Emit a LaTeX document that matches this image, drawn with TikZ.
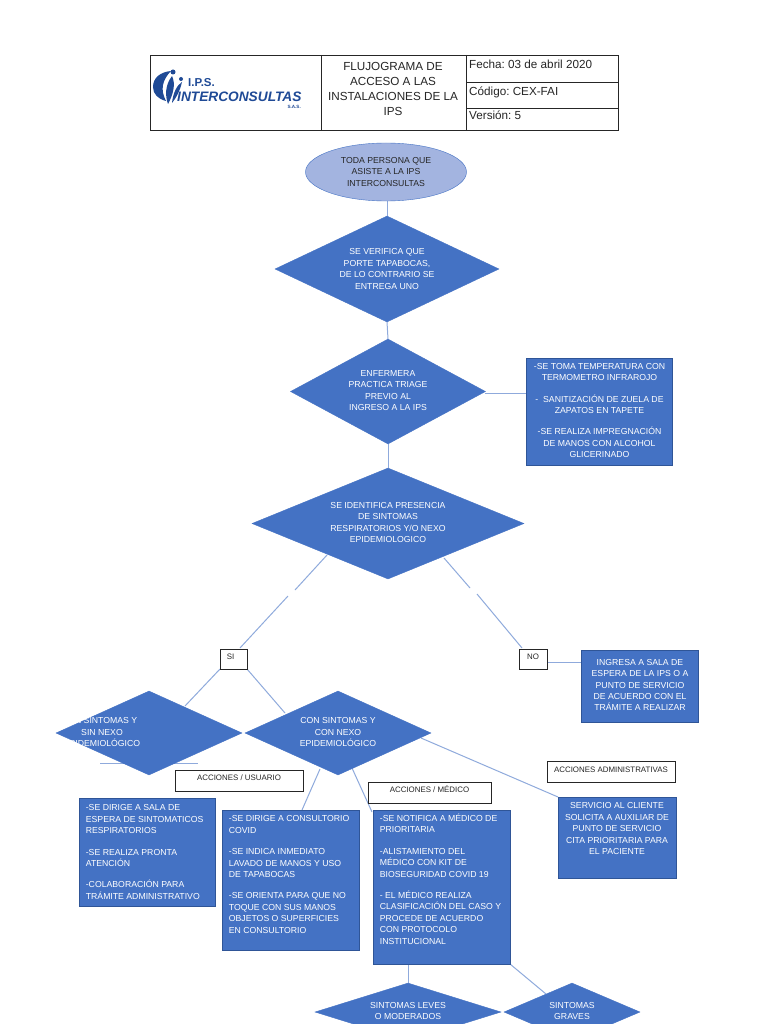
\documentclass[tikz,border=0pt]{standalone}
\usepackage{fontspec}
\setmainfont{Liberation Sans}
\usetikzlibrary{calc}
\usetikzlibrary{shapes}
\definecolor{boxblue}{HTML}{4472C4}
\definecolor{boxedge}{HTML}{2F5597}
\definecolor{linkblue}{HTML}{8FAADC}
\definecolor{startblue}{HTML}{A3B4E0}
\definecolor{logoblue}{HTML}{1F4A96}
\tikzset{
  flow/.style = {draw = boxblue, fill = boxblue, diamond, inner sep = 0pt},
  bluebox/.style = {rectangle, draw = boxedge, fill = boxblue, line width = 0.7pt, inner sep = 0pt},
  whitebox/.style = {rectangle, draw = black!85, fill = white, line width = 0.9pt, inner sep = 0pt},
  small/.style = {font = \frenchspacing\fontsize{8.7}{11.4}\selectfont, inner sep = 0pt},
  smallw/.style = {small, text = white},
  tiny/.style = {font = \fontsize{7.9}{10}\selectfont, text = black!85, inner sep = 0pt},
  head/.style = {font = \frenchspacing\fontsize{11.7}{15}\selectfont, text = black!85, inner sep = 0pt},
  link/.style = {draw = linkblue, line width = 1pt}
}
\begin{document}
\begin{tikzpicture}[x = 1pt, y = -1pt]
\useasboundingbox (0,0) rectangle (768,1024);
\fill[white] (0,0) rectangle (768,1024);

\coordinate (d3sw) at (327,555);
\coordinate (gapa) at (295,590);
\coordinate (gapb) at (288,596);
\coordinate (d3se) at (444,558);
\coordinate (gapc) at (470,588);
\coordinate (gapd) at (477,594);
\coordinate (sisw) at (220,669);
\coordinate (sise) at (247,669);
\coordinate (d4top) at (185,706);
\coordinate (d5top) at (285,713);
\coordinate (sitop) at (240,648);
\coordinate (notop) at (522,648);
\coordinate (d5e) at (421,738);
\coordinate (admtop) at (558,797);
\coordinate (d5a) at (320,769);
\coordinate (usrtop) at (302,810);
\coordinate (d5b) at (352,768);
\coordinate (medtop) at (372,812);
\coordinate (strayl) at (100,763);
\coordinate (strayr) at (198,763);
\coordinate (medse) at (510,964);
\coordinate (d7top) at (546,994);

\draw[link] (387,201) -- (387,216);
\draw[link] (387,322) -- (388,339);
\draw[link] (388,444) -- (388,468);
\draw[link] (485,393) -- (526,393);
\draw[link] (d3sw) -- (gapa);
\draw[link] (gapb) -- (sitop);
\draw[link] (d3se) -- (gapc);
\draw[link] (gapd) -- (notop);
\draw[link] (sisw) -- (d4top);
\draw[link] (sise) -- (d5top);
\draw[link] (strayl) -- (strayr);
\draw[link] (d5e) -- (admtop);
\draw[link] (d5a) -- (usrtop);
\draw[link] (d5b) -- (medtop);
\draw[link] (547,662) -- (581,662);
\draw[link] (408,964) -- (408,983);
\draw[link] (medse) -- (d7top);

\draw[draw = black!85, line width = 0.9pt] (150,55) rectangle (618,130);
\draw[draw = black!85, line width = 0.9pt] (321,55) -- (321,130);
\draw[draw = black!85, line width = 0.9pt] (466,55) -- (466,130);
\draw[draw = black!85, line width = 0.9pt] (466,82) -- (618,82);
\draw[draw = black!85, line width = 0.9pt] (466,108) -- (618,108);
\draw (393,88.5) node[name = title, head, align = center]{FLUJOGRAMA DE\\ACCESO A LAS\\INSTALACIONES DE LA\\IPS};
\draw (469,64.5) node[name = fecha, head, right]{Fecha: 03 de abril 2020};
\draw (469,92) node[name = codigo, head, right]{Código: CEX-FAI};
\draw (469,115) node[name = version, head, right]{Versión: 5};

\fill[logoblue] (171,71) .. controls (160,72) and (153,78) .. (153,87) .. controls (153,94) and (158,99) .. (166,101) .. controls (163,95) and (162,90) .. (163,85) .. controls (164,80) and (167,75) .. (171,71);
\fill[logoblue] (172,76) .. controls (176,84) and (173,95) .. (168,104) .. controls (165,96) and (165,85) .. (172,76);
\fill[logoblue] (182,82) .. controls (177,85) and (173,93) .. (172,103) .. controls (176,98) and (180,91) .. (182,82);
\fill[logoblue] (173,72) circle (2.5);
\fill[logoblue] (181,79) circle (2);
\draw (188,83) node[name = ips, right, inner sep = 0pt, text = logoblue, font = \fontsize{11.5}{12}\selectfont\bfseries]{I.P.S.};
\draw (177,97) node[name = inter, right, inner sep = 0pt, text = logoblue, font = \fontsize{13.7}{15}\selectfont\bfseries\itshape]{INTERCONSULTAS};
\draw (301,107) node[name = sas, left, inner sep = 0pt, text = logoblue, font = \fontsize{4.6}{6}\selectfont\bfseries]{S.A.S.};

\draw (386,172) node[name = start, ellipse, draw = boxblue, fill = startblue, minimum width = 161pt, minimum height = 58pt, inner sep = 0pt]{};
\draw (start.center) node[name = starttxt, small, align = center, text = black!85]{TODA PERSONA QUE\\ASISTE A LA IPS\\INTERCONSULTAS};

\draw (387,269) node[name = tapa, flow, minimum width = 224pt, minimum height = 106pt]{};
\draw (tapa.center) + (0,0) node[name = tapatxt, smallw, align = center]{SE VERIFICA QUE\\PORTE TAPABOCAS,\\DE LO CONTRARIO SE\\ENTREGA UNO};
\draw (388,391.5) node[name = triage, flow, minimum width = 195pt, minimum height = 105pt]{};
\draw (triage.center) + (0,-1) node[name = triagetxt, smallw, align = center]{ENFERMERA\\PRACTICA TRIAGE\\PREVIO AL\\INGRESO A LA IPS};
\draw (388,523.5) node[name = ident, flow, minimum width = 272pt, minimum height = 111pt]{};
\draw (ident.center) + (0,-1) node[name = identtxt, smallw, align = center]{SE IDENTIFICA PRESENCIA\\DE SINTOMAS\\RESPIRATORIOS Y/O NEXO\\EPIDEMIOLOGICO};

\draw (149,733) node[name = sinnexo, flow, minimum width = 186pt, minimum height = 84pt]{};
\draw (102,732) node[name = sintxt, smallw, align = center]{SIN SINTOMAS Y\\SIN NEXO\\EPIDEMIOLÓGICO};
\draw (338,733) node[name = connexo, flow, minimum width = 186pt, minimum height = 84pt]{};
\draw (connexo.center) + (0,-1) node[name = contxt, smallw, align = center]{CON SINTOMAS Y\\CON NEXO\\EPIDEMIOLÓGICO};

\draw (408,1012) node[name = leves, flow, minimum width = 186pt, minimum height = 58pt]{};
\draw (leves.center) + (0,-1) node[name = levestxt, smallw, align = center]{SINTOMAS LEVES\\O MODERADOS};
\draw (572,1012) node[name = graves, flow, minimum width = 136pt, minimum height = 58pt]{};
\draw (graves.center) + (0,-1) node[name = gravestxt, smallw, align = center]{SINTOMAS\\GRAVES};

\draw (599.5,411.5) node[name = temp, bluebox, minimum width = 146pt, minimum height = 107pt]{};
\draw (temp.center) + (0,-1) node[name = temptxt, smallw, align = center]{-SE TOMA TEMPERATURA CON\\TERMOMETRO INFRAROJO\\[10pt]- \ SANITIZACIÓN DE ZUELA DE\\ZAPATOS EN TAPETE\\[10pt]-SE REALIZA IMPREGNACIÓN\\DE MANOS CON ALCOHOL\\GLICERINADO};

\draw (640,686) node[name = sala, bluebox, minimum width = 117pt, minimum height = 72pt]{};
\draw (sala.center) + (0,-1) node[name = salatxt, smallw, align = center]{INGRESA A SALA DE\\ESPERA DE LA IPS O A\\PUNTO DE SERVICIO\\DE ACUERDO CON EL\\TRÁMITE A REALIZAR};

\draw (147,852) node[name = usr, bluebox, minimum width = 136pt, minimum height = 108pt]{};
\draw (usr.north west) + (7,7) node[name = usrtxt, smallw, below right, align = left]{-SE DIRIGE A SALA DE\\ESPERA DE SINTOMATICOS\\RESPIRATORIOS\\[10pt]-SE REALIZA PRONTA\\ATENCIÓN\\[10pt]-COLABORACIÓN PARA\\TRÁMITE ADMINISTRATIVO};
\draw (290.5,880) node[name = covid, bluebox, minimum width = 137pt, minimum height = 140pt]{};
\draw (covid.north west) + (7,6) node[name = covidtxt, smallw, below right, align = left]{-SE DIRIGE A CONSULTORIO\\COVID\\[10pt]-SE INDICA INMEDIATO\\LAVADO DE MANOS Y USO\\DE TAPABOCAS\\[10pt]-SE ORIENTA PARA QUE NO\\TOQUE CON SUS MANOS\\OBJETOS O SUPERFICIES\\EN CONSULTORIO};
\draw (441.5,887) node[name = med, bluebox, minimum width = 137pt, minimum height = 154pt]{};
\draw (med.north west) + (7,4) node[name = medtxt, smallw, below right, align = left]{-SE NOTIFICA A MÉDICO DE\\PRIORITARIA\\[10pt]-ALISTAMIENTO DEL\\MÉDICO CON KIT DE\\BIOSEGURIDAD COVID 19\\[10pt]- EL MÉDICO REALIZA\\CLASIFICACIÓN DEL CASO Y\\PROCEDE DE ACUERDO\\CON PROTOCOLO\\INSTITUCIONAL};
\draw (617,837.5) node[name = serv, bluebox, minimum width = 118pt, minimum height = 81pt]{};
\draw (serv.north) + (0,6) node[name = servtxt, smallw, below, align = center]{SERVICIO AL CLIENTE\\SOLICITA A AUXILIAR DE\\PUNTO DE SERVICIO\\CITA PRIORITARIA PARA\\EL PACIENTE};

\draw (233.5,659) node[name = si, whitebox, minimum width = 27pt, minimum height = 20pt]{};
\draw (si.center) + (-3,-2.5) node[name = sitxt, tiny]{SI};
\draw (533,659) node[name = no, whitebox, minimum width = 28pt, minimum height = 20pt]{};
\draw (no.center) + (0,-2.5) node[name = notxt, tiny]{NO};
\draw (239,780.5) node[name = accusr, whitebox, minimum width = 128pt, minimum height = 21pt]{};
\draw (accusr.center) + (0,-3) node[name = accusrtxt, tiny]{ACCIONES / USUARIO};
\draw (429.5,792.5) node[name = accmed, whitebox, minimum width = 123pt, minimum height = 21pt]{};
\draw (accmed.center) + (0,-3) node[name = accmedtxt, tiny]{ACCIONES / MÉDICO};
\draw (611,772) node[name = accadm, whitebox, minimum width = 128pt, minimum height = 21pt]{};
\draw (accadm.center) + (0,-2.5) node[name = accadmtxt, tiny]{ACCIONES ADMINISTRATIVAS};
\end{tikzpicture}
\end{document}
